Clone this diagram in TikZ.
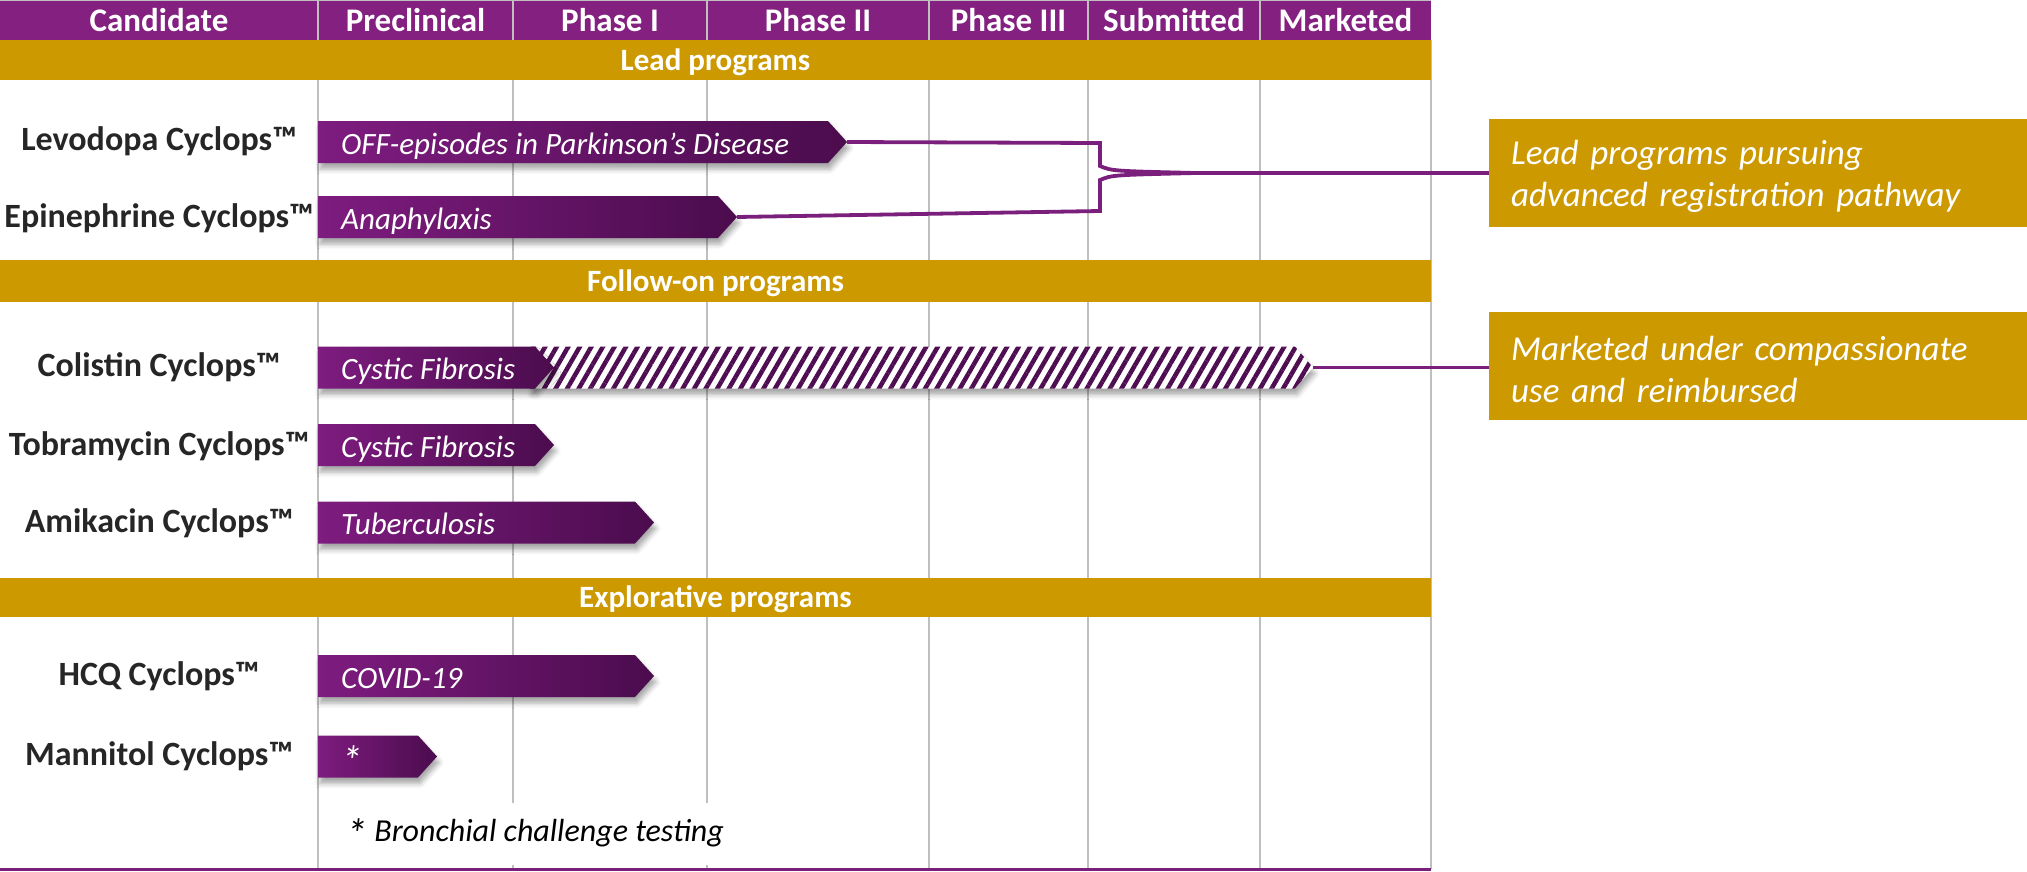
\documentclass[tikz,border=0pt]{standalone}
\usepackage{fontspec}
\setmainfont{Carlito}
\usetikzlibrary{shadows.blur, patterns.meta}

\definecolor{hdr}{HTML}{84207F}
\definecolor{gold}{HTML}{CC9900}
\definecolor{gridc}{HTML}{BFBFBF}
\definecolor{barL}{HTML}{7E1C80}
\definecolor{barR}{HTML}{4B0C4D}
\definecolor{conncol}{HTML}{7B1F7D}
\definecolor{labc}{HTML}{262626}
\definecolor{hatchc}{HTML}{4E0E51}

\tikzset{
  gridline/.style={draw=gridc, line width=1.5pt},
  band/.style={fill=gold},
  hdrtext/.style={text=white, font=\fontsize{33}{39}\selectfont\bfseries, anchor=base, inner sep=0pt},
  bandtext/.style={text=white, font=\fontsize{31}{37}\selectfont\bfseries, anchor=base, inner sep=0pt},
  cand/.style={text=labc, font=\fontsize{34}{40}\selectfont\bfseries, anchor=base, inner sep=0pt},
  barshade/.style={left color=barL, right color=barR,
    blur shadow={shadow xshift=2pt, shadow yshift=-6pt, shadow blur radius=5pt, shadow opacity=35}},
  bartext/.style={text=white, font=\fontsize{31}{37}\selectfont\itshape, anchor=base west, inner sep=0pt},
  conn/.style={draw=conncol, line width=3.8pt},
  notebox/.style={fill=gold, text=white, font=\fontsize{35}{42}\selectfont\itshape, align=left,
    text width=494pt, inner xsep=22pt, inner ysep=0pt, minimum height=108pt, anchor=north west},
  foottext/.style={fill=white, text=black, font=\fontsize{32}{38}\selectfont\itshape,
    inner xsep=20pt, minimum height=62pt, anchor=west},
}

\newcommand\bigast{\raisebox{-7pt}{\fontsize{42}{42}\selectfont *}}

\newcommand\pipebar[4]{%
  \path[barshade] (318,#2-21) -- (#3,#2-21) -- (#3+19,#2) -- (#3,#2+21) -- (318,#2+21) -- cycle;
  \node[bartext] (#1) at (341,#2+12) {#4};
  \coordinate (#1tip) at (#3+19,#2);
}

\begin{document}
\begin{tikzpicture}[x=1pt, y=-1pt]
\useasboundingbox (0,0) rectangle (2027,871);

% grid lines
\foreach \gx in {318,513,707,929,1088,1260,1431}
  \draw[gridline] (\gx,40) -- (\gx,869);

% header
\fill[hdr] (0,0) rectangle (1431,40);
\foreach \gx in {318,513,707,929,1088,1260}
  \draw[draw=gridc, line width=1.2pt] (\gx,0) -- (\gx,40);
\draw[draw=gridc, line width=1pt] (0,0.5) -- (1431,0.5);
\node[hdrtext] (hcand) at (159,31) {Candidate};
\node[hdrtext] (hpre) at (415.5,31) {Preclinical};
\node[hdrtext] (hp1) at (610,31) {Phase I};
\node[hdrtext] (hp2) at (818,31) {Phase II};
\node[hdrtext] (hp3) at (1008.5,31) {Phase III};
\node[hdrtext] (hsub) at (1174,31) {Submitted};
\node[hdrtext] (hmkt) at (1345.5,31) {Marketed};

% section bands
\fill[band] (0,40) rectangle (1431,80);
\node[bandtext] (blead) at (715.5,70) {Lead programs};
\fill[band] (0,260) rectangle (1431,302);
\node[bandtext] (bfollow) at (715.5,291) {Follow-on programs};
\fill[band] (0,578) rectangle (1431,617);
\node[bandtext] (bexpl) at (715.5,607) {Explorative programs};

% candidate labels
\node[cand] (clev) at (159,150) {Levodopa Cyclops™};
\node[cand] (cepi) at (159,227) {Epinephrine Cyclops™};
\node[cand] (ccol) at (159,376) {Colistin Cyclops™};
\node[cand] (ctob) at (159,455) {Tobramycin Cyclops™};
\node[cand] (cami) at (159,532) {Amikacin Cyclops™};
\node[cand] (chcq) at (159,685) {HCQ Cyclops™};
\node[cand] (cman) at (159,765) {Mannitol Cyclops™};

% hatched extension of Colistin
\path[fill=white, blur shadow={shadow xshift=2pt, shadow yshift=-6pt, shadow blur radius=5pt, shadow opacity=35}]
  (530,346.5) -- (1295,346.5) -- (1313,367.5) -- (1295,388.5) -- (530,388.5) -- cycle;
\path[pattern={Lines[angle=60,distance=10pt,line width=4.5pt]}, pattern color=hatchc]
  (530,346.5) -- (1295,346.5) -- (1313,367.5) -- (1295,388.5) -- (530,388.5) -- cycle;
\coordinate (hatchtip) at (1313,367.5);

% bars
\pipebar{blev}{142}{828}{OFF-episodes in Parkinson’s Disease}
\pipebar{bepi}{217}{718}{Anaphylaxis}
\pipebar{bcol}{367.5}{535}{Cystic Fibrosis}
\pipebar{btob}{445}{535}{Cystic Fibrosis}
\pipebar{bami}{522.5}{635}{Tuberculosis}
\pipebar{bhcq}{676}{635}{COVID-19}
\pipebar{bman}{756.5}{418}{\bigast}

% note boxes
\node[notebox] (note1) at (1489,119) {\rule{0pt}{30pt}Lead programs pursuing\\advanced registration pathway};
\node[notebox] (note2) at (1489,312) {\rule{0pt}{30pt}Marketed under compassionate\\use and reimbursed};

% brace connector
\coordinate (braceT) at (1100,143);
\coordinate (braceB) at (1100,211);
\coordinate (braceM) at (1195,173);
\draw[conn] (blevtip) -- (braceT) -- (1100,166) .. controls (1112,171) .. (braceM);
\draw[conn] (bepitip) -- (braceB) -- (1100,180) .. controls (1112,175) .. (braceM);
\draw[conn, line width=4.5pt] (braceM) -- (braceM -| note1.west);
\draw[conn] (hatchtip) -- (hatchtip -| note2.west);

% footnote
\node[foottext] (foot) at (326,834) {\bigast\ Bronchial challenge testing};

% bottom rule
\draw[draw=conncol, line width=3pt] (0,869) -- (1431,869);
\end{tikzpicture}
\end{document}
